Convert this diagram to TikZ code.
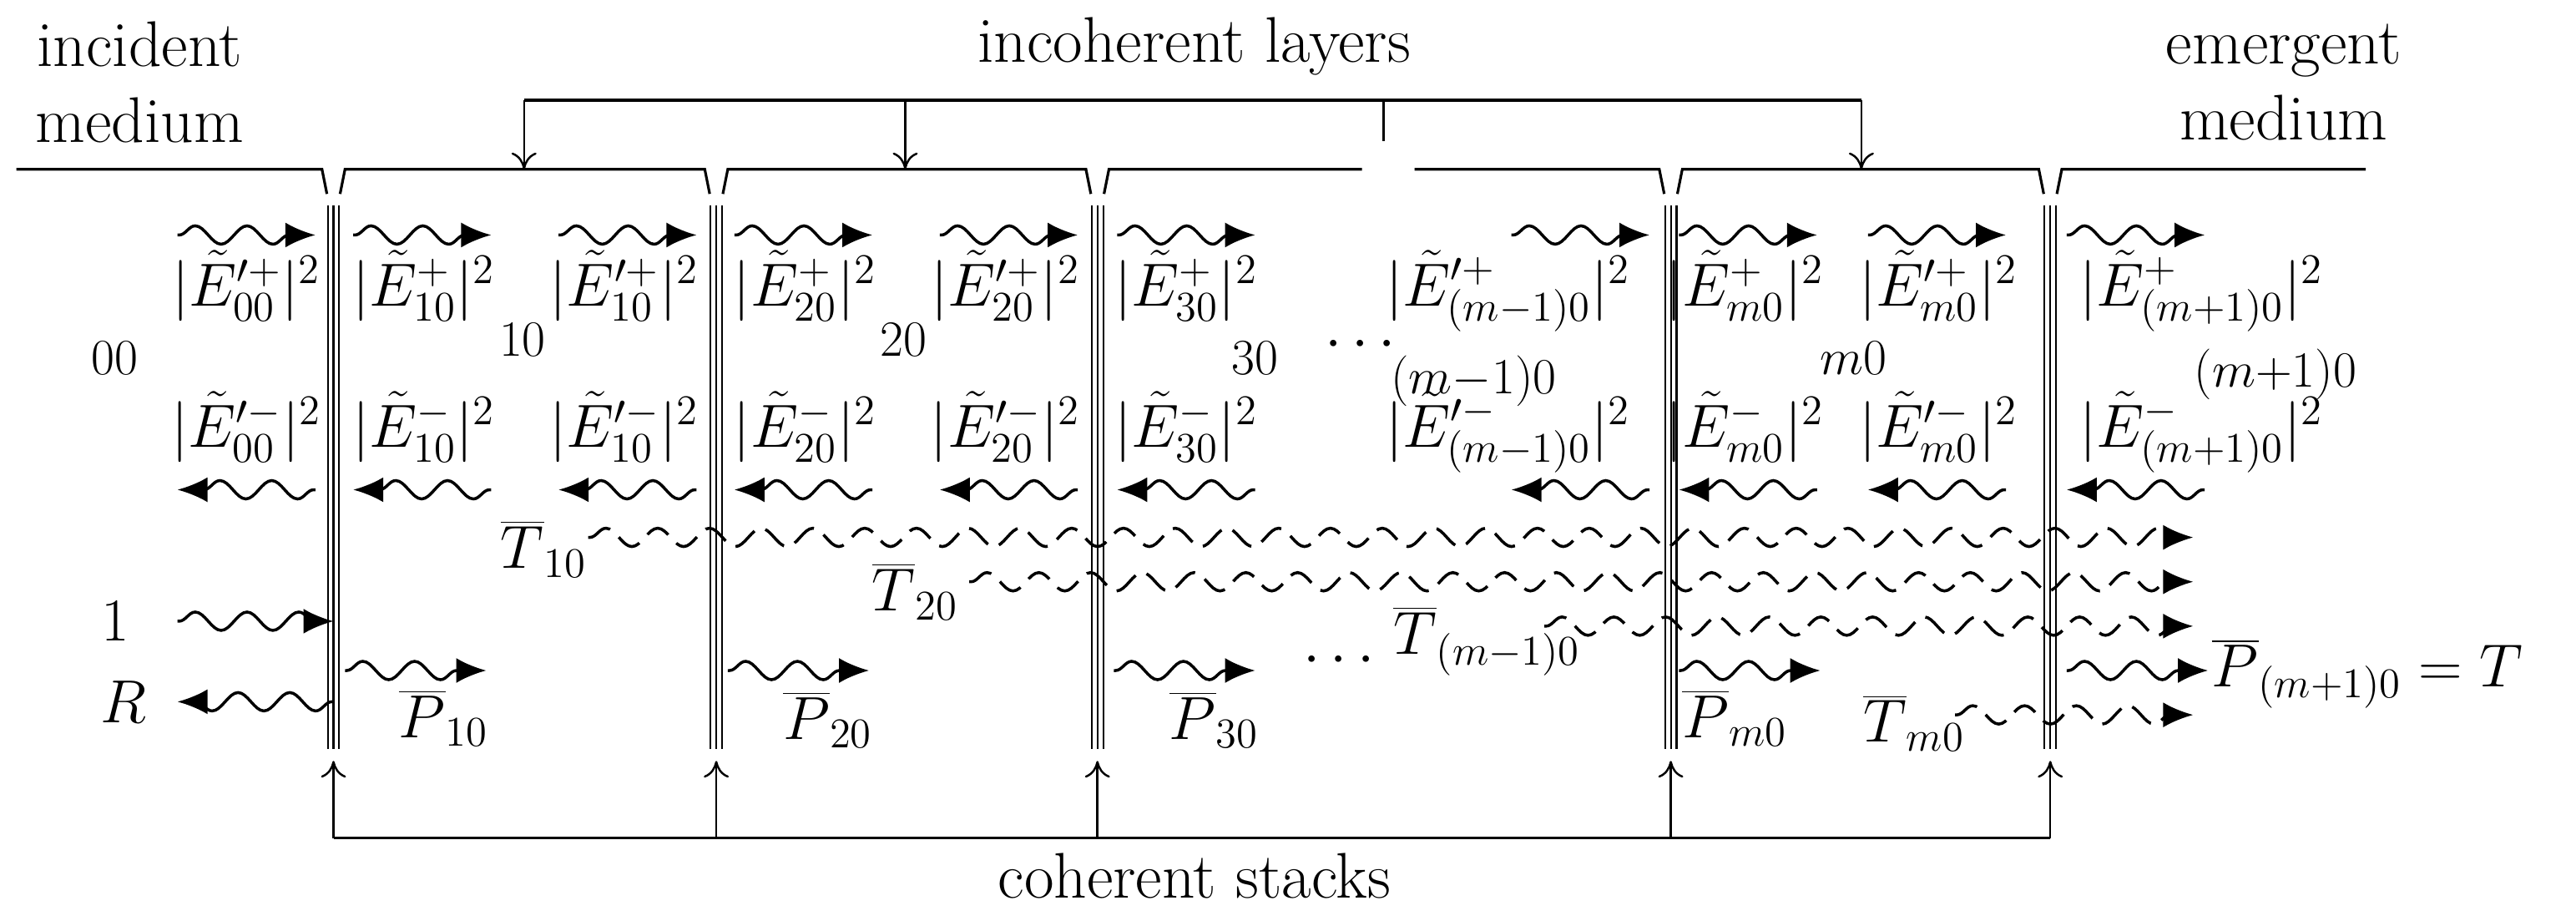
\documentclass[tikz,border=0pt]{standalone}
\usetikzlibrary{decorations.pathmorphing,arrows.meta}
\begin{document}
\begin{tikzpicture}[x=0.01968cm,y=-0.01968cm,font=\fontsize{22}{26}\selectfont,
  wv/.style={decorate,decoration={snake,amplitude=0.11cm,segment length=0.62cm,post length=0.2cm,pre length=0.02cm},-{Latex[length=0.36cm,width=0.3cm]},line width=1pt},
  wvd/.style={wv,dash pattern=on 0.3cm off 0.14cm},
  br/.style={line width=0.9pt},
  ar/.style={line width=0.7pt,-{To[length=0.2cm,width=0.3cm]}},
  lb/.style={anchor=base,inner sep=0pt},
  md/.style={font=\fontsize{17}{20}\selectfont,inner sep=1pt}]
\useasboundingbox (0,0) rectangle (1568,557);
% texts
\node[align=center] (inc) at (85,50) {incident\\medium};
\node[align=center] (emg) at (1390,50) {emergent\\medium};
\node (incl) at (727,28) {incoherent layers};
\node (cohs) at (727,533) {coherent stacks};
% stacks
\foreach \s/\n in {203/1,436/2,668/3,1017/4,1248/5}{
  \coordinate (s\n) at (\s,125);
  \coordinate (b\n) at (\s,463);
  \draw[line width=0.6pt] (\s-3.5,125)--(\s-3.5,456) (\s,125)--(\s,456) (\s+3.5,125)--(\s+3.5,456);
}
% top brace line
\draw[br] (10,103)--(196,103)--(199,118);
\draw[br] (207,118)--(210,103)--(429,103)--(432,118);
\draw[br] (440,118)--(443,103)--(661,103)--(664,118);
\draw[br] (672,118)--(675,103)--(829,103);
\draw[br] (861,103)--(1010,103)--(1013,118);
\draw[br] (1021,118)--(1024,103)--(1241,103)--(1244,118);
\draw[br] (1252,118)--(1255,103)--(1440,103);
% incoherent bracket
\coordinate (t1) at (319,103); \coordinate (t2) at (551,103); \coordinate (t3) at (1133,103);
\draw[br] (319,61)--(1133,61) (842,61)--(842,86);
\draw[ar] (319,61)--(t1);
\draw[ar] (551,61)--(t2);
\draw[ar] (1133,61)--(t3);
% coherent bracket
\draw[br] (203,510)--(1248,510);
\foreach \n in {1,...,5}{ \draw[ar] (b\n|-0,510)--(b\n); }
% wave arrows above and below the labels
\foreach \a in {108,215,340,447,572,680,920,1022,1137,1258}{
  \draw[wv] (\a,143)--(\a+84,143);
  \draw[wv] (\a+84,298)--(\a,298);
}
% labels row 1
\node[lb] at (150,186) {$|\tilde{E}'^{+}_{00}|^2$};
\node[lb] at (258,186) {$|\tilde{E}^{+}_{10}|^2$};
\node[lb] at (380,186) {$|\tilde{E}'^{+}_{10}|^2$};
\node[lb] at (490,186) {$|\tilde{E}^{+}_{20}|^2$};
\node[lb] at (612,186) {$|\tilde{E}'^{+}_{20}|^2$};
\node[lb] at (722,186) {$|\tilde{E}^{+}_{30}|^2$};
\node[lb] at (918,186) {$|\tilde{E}'^{+}_{(m-1)0}|^2$};
\node[lb] at (1062,186) {$|\tilde{E}^{+}_{m0}|^2$};
\node[lb] at (1180,186) {$|\tilde{E}'^{+}_{m0}|^2$};
\node[lb] at (1340,186) {$|\tilde{E}^{+}_{(m+1)0}|^2$};
% labels row 2
\node[lb] at (150,272) {$|\tilde{E}'^{-}_{00}|^2$};
\node[lb] at (258,272) {$|\tilde{E}^{-}_{10}|^2$};
\node[lb] at (380,272) {$|\tilde{E}'^{-}_{10}|^2$};
\node[lb] at (490,272) {$|\tilde{E}^{-}_{20}|^2$};
\node[lb] at (612,272) {$|\tilde{E}'^{-}_{20}|^2$};
\node[lb] at (722,272) {$|\tilde{E}^{-}_{30}|^2$};
\node[lb] at (918,272) {$|\tilde{E}'^{-}_{(m-1)0}|^2$};
\node[lb] at (1062,272) {$|\tilde{E}^{-}_{m0}|^2$};
\node[lb] at (1180,272) {$|\tilde{E}'^{-}_{m0}|^2$};
\node[lb] at (1340,272) {$|\tilde{E}^{-}_{(m+1)0}|^2$};
% middle labels
\node[md] (l00) at (70,218) {$00$};
\node[md] (l10) at (318,207) {$10$};
\node[md] (l20) at (550,207) {$20$};
\node[md] (l30) at (764,218) {$30$};
\node (dt1) at (828,210) {$\cdots$};
\node[md] (lm1) at (897,232) {$(m{-}1)0$};
\node[md] (lm) at (1128,218) {$m0$};
\node[md] (lmp) at (1385,228) {$(m{+}1)0$};
% T lines
\node (T10) at (331,334) {$\overline{T}_{10}$};
\draw[wvd] (358,327)--(1335,327);
\node (T20) at (557,360) {$\overline{T}_{20}$};
\draw[wvd] (590,354)--(1335,354);
\node (Tm1) at (905,390) {$\overline{T}_{(m-1)0}$};
\draw[wvd] (940,381)--(1335,381);
\node (Tm) at (1165,440) {$\overline{T}_{m0}$};
\draw[wvd] (1190,435)--(1335,435);
% incident / reflected
\node (one) at (70,378) {$1$};
\node (R) at (75,427) {$R$};
\draw[wv] (108,378)--(s1|-0,378);
\draw[wv] (s1|-0,427)--(108,427);
% P arrows
\foreach \a in {210,443,678,1022,1258}{ \draw[wv] (\a,408)--(\a+86,408); }
\node (P10) at (270,437) {$\overline{P}_{10}$};
\node (P20) at (504,438) {$\overline{P}_{20}$};
\node (P30) at (739,438) {$\overline{P}_{30}$};
\node (dt2) at (815,402) {$\cdots$};
\node (Pm) at (1056,437) {$\overline{P}_{m0}$};
\node[anchor=west] (PT) at (1340,410) {$\overline{P}_{(m+1)0}=T$};
\end{tikzpicture}
\end{document}
